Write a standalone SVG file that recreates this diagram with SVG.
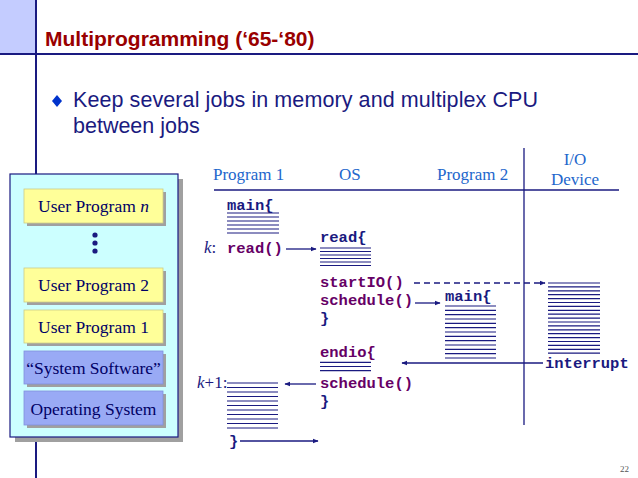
<svg xmlns="http://www.w3.org/2000/svg" width="638" height="478" viewBox="0 0 638 478">
<defs>
<marker id="ah" viewBox="0 0 10 10" refX="9" refY="5" markerWidth="6" markerHeight="6" orient="auto" markerUnits="userSpaceOnUse">
<path d="M0,1 L10,5 L0,9 z" fill="#1a1a80"/>
</marker>
<style>
.frame{stroke:#1a1a80;stroke-width:2;fill:none}
.title{font-family:"Liberation Sans",Arial,sans-serif;font-weight:bold;font-size:21px;fill:#990000}
.bul{font-family:"Liberation Sans",Arial,sans-serif;font-size:21.5px;fill:#1a1a80}
.hdr{font-family:"Liberation Serif","Times New Roman",serif;font-size:17px;fill:#2266cc}
.lbl{font-family:"Liberation Serif","Times New Roman",serif;font-size:17.5px;fill:#000066}
.kl{font-family:"Liberation Serif","Times New Roman",serif;font-size:17px;fill:#1a1a80}
.code{font-family:"Liberation Mono","Courier New",monospace;font-weight:bold;font-size:15.5px}
.nv{fill:#1a1a80}
.pu{fill:#660066}
.hatch{stroke:#1a1a80;stroke-width:1.2;fill:none}
.conn{stroke:#1a1a80;stroke-width:1.3;fill:none}
.yel{fill:#ffff99;stroke:#cccc88;stroke-width:0.8}
.blu{fill:#99aaf5;stroke:#8090dd;stroke-width:0.8}
.shd{fill:#a0a0a0}
</style>
</defs>

<g id="slide-frame">
<rect x="0" y="0" width="36" height="54" fill="#c4ccff"/>
<line x1="36" y1="0" x2="36" y2="478" class="frame"/>
<line x1="0" y1="54" x2="638" y2="54" class="frame"/>
<text x="45" y="46" class="title">Multiprogramming (‘65-‘80)</text>
<path d="M57,95 L62,101 L57,107 L52,101 z" fill="#0033cc"/>
<text x="73" y="107" class="bul" textLength="465" lengthAdjust="spacing">Keep several jobs in memory and multiplex CPU</text>
<text x="73" y="133" class="bul">between jobs</text>
<text x="620" y="472" font-family="Liberation Serif, serif" font-size="9" fill="#555">22</text>
</g>

<g id="memory-box">
<rect x="15" y="179" width="168" height="263" class="shd"/>
<rect x="10" y="174" width="168" height="263" fill="#ccffff" stroke="#1a1a80" stroke-width="1.2"/>
</g>
<g id="user-program-n">
<rect x="27" y="192" width="139" height="34" class="shd"/>
<rect x="24" y="189" width="139" height="34" class="yel"/>
<text x="93.5" y="212" text-anchor="middle" class="lbl">User Program <tspan font-style="italic">n</tspan></text>
</g>
<g id="dots">
<circle cx="95" cy="235" r="2.6" fill="#1a1a80"/>
<circle cx="95" cy="243" r="2.6" fill="#1a1a80"/>
<circle cx="95" cy="251" r="2.6" fill="#1a1a80"/>
</g>
<g id="user-program-2">
<rect x="27" y="271" width="139" height="34" class="shd"/>
<rect x="24" y="268" width="139" height="34" class="yel"/>
<text x="93.5" y="291" text-anchor="middle" class="lbl">User Program 2</text>
</g>
<g id="user-program-1">
<rect x="27" y="313" width="139" height="33" class="shd"/>
<rect x="24" y="310" width="139" height="33" class="yel"/>
<text x="93.5" y="333" text-anchor="middle" class="lbl">User Program 1</text>
</g>
<g id="system-software">
<rect x="27" y="354" width="139" height="33" class="shd"/>
<rect x="24" y="351" width="139" height="33" class="blu"/>
<text x="93.5" y="374" text-anchor="middle" class="lbl">“System Software”</text>
</g>
<g id="operating-system">
<rect x="27" y="394" width="139" height="34" class="shd"/>
<rect x="24" y="391" width="139" height="34" class="blu"/>
<text x="93.5" y="415" text-anchor="middle" class="lbl">Operating System</text>
</g>

<g id="headers">
<text x="213" y="180" class="hdr">Program 1</text>
<text x="339" y="180" class="hdr">OS</text>
<text x="437" y="180" class="hdr">Program 2</text>
<text x="575" y="165" text-anchor="middle" class="hdr">I/O</text>
<text x="575" y="185" text-anchor="middle" class="hdr">Device</text>
<line x1="214" y1="190" x2="619" y2="190" class="conn" stroke-width="1.6"/>
<line x1="524" y1="148" x2="524" y2="425" class="conn" stroke-width="1.6"/>
</g>

<g id="program1">
<text x="227" y="210" class="code nv">main{</text>
<path class="hatch" d="M227,213H279M227,217H279M227,221H279M227,225H279M227,229H279M227,233H279"/>
<text x="204" y="253" class="kl"><tspan font-style="italic">k</tspan>:</text>
<text x="227" y="253" class="code pu">read()</text>
<text x="197" y="388" class="kl"><tspan font-style="italic">k</tspan>+1:</text>
<path class="hatch" d="M227,383H278M227,387.5H278M227,392H278M227,396.5H278M227,401H278M227,405.5H278M227,410H278M227,414.5H278M227,419H278M227,423.5H278M227,428H278"/>
<text x="229" y="446" class="code nv">}</text>
</g>

<g id="os">
<text x="320" y="242" class="code nv">read{</text>
<path class="hatch" d="M320,248H371M320,251.5H371M320,255H371M320,258.5H371M320,262H371M320,265.5H371"/>
<text x="320" y="287" class="code pu">startIO()</text>
<text x="320" y="305" class="code pu">schedule()</text>
<text x="320" y="323" class="code nv">}</text>
<text x="320" y="357" class="code pu">endio{</text>
<path class="hatch" d="M320,362.3H371M320,366.5H371M320,370.7H371"/>
<text x="320" y="388" class="code pu">schedule()</text>
<text x="320" y="406" class="code nv">}</text>
</g>

<g id="program2">
<text x="445" y="301" class="code nv">main{</text>
<path class="hatch" d="M445,306H496M445,310.3H496M445,314.7H496M445,319H496M445,323.3H496M445,327.7H496M445,332H496M445,336.3H496M445,340.7H496M445,345H496M445,349.3H496M445,353.7H496M445,358H496"/>
</g>

<g id="io-device">
<path class="hatch" d="M548,283H600M548,286.9H600M548,290.8H600M548,294.7H600M548,298.6H600M548,302.5H600M548,306.4H600M548,310.3H600M548,314.2H600M548,318.1H600M548,322H600M548,325.9H600M548,329.8H600M548,333.7H600M548,337.6H600M548,341.5H600M548,345.4H600M548,349.3H600M548,353.2H600"/>
<text x="545" y="368" class="code nv">interrupt</text>
</g>

<g id="connectors">
<line x1="286" y1="249" x2="316" y2="249" class="conn" marker-end="url(#ah)"/>
<line x1="414" y1="283" x2="545" y2="283" class="conn" stroke-dasharray="6,4" marker-end="url(#ah)"/>
<line x1="415" y1="303" x2="440" y2="303" class="conn" marker-end="url(#ah)"/>
<line x1="543" y1="363" x2="402" y2="363" class="conn" marker-end="url(#ah)"/>
<line x1="316" y1="384" x2="285" y2="384" class="conn" marker-end="url(#ah)"/>
<line x1="240" y1="441" x2="318" y2="441" class="conn" marker-end="url(#ah)"/>
</g>
</svg>
